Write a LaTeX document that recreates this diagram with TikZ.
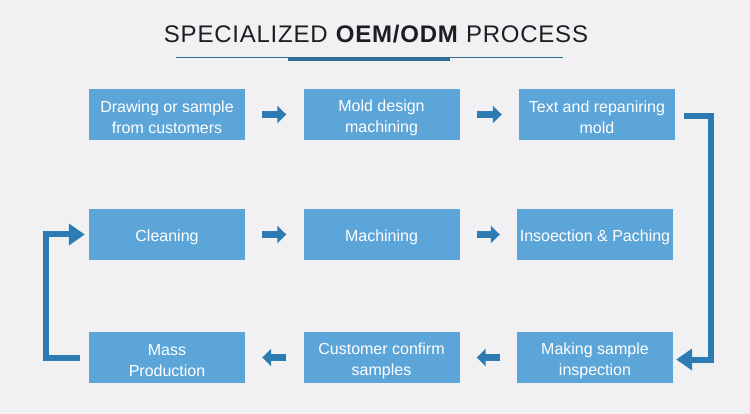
\documentclass[tikz,border=0pt]{standalone}
\usepackage{fontspec}
\setmainfont{Liberation Sans}
\newfontfamily\titlefont[LetterSpace=3.2]{Liberation Sans}
\usetikzlibrary{arrows.meta}
\definecolor{bg}{HTML}{F1F0F3}
\definecolor{boxblue}{HTML}{5CA5D8}
\definecolor{arrblue}{HTML}{2C7BB2}
\definecolor{lineblue}{HTML}{2E6F96}
\definecolor{titlegray}{HTML}{1E1E22}
\newcommand\mytopstrut{\rule{0pt}{18pt}}
\tikzset{
  stepbox/.style={fill=boxblue, minimum width=156pt, minimum height=51pt, inner sep=0pt,
    text=white, align=center, font=\fontsize{16}{21}\selectfont},
  smallarrow/.style={draw=arrblue, line width=7.5pt, shorten <=17pt, shorten >=17pt,
    -{Triangle[length=9pt,width=17pt]}},
  conn/.style={draw=arrblue, line width=6pt,
    -{Triangle[length=16pt,width=21pt]}},
}
\begin{document}
\begin{tikzpicture}[x=1pt,y=-1pt]
\fill[bg] (0,0) rectangle (750,414);
\useasboundingbox (0,0) rectangle (750,414);
% title
\node[anchor=base, inner sep=0pt, text=titlegray, font=\titlefont\fontsize{24}{28}\selectfont] (title) at (376,43)
  {SPECIALIZED \textbf{OEM/ODM} PROCESS};
\draw[lineblue, line width=1pt] (176,57.5) -- (563,57.5);
\draw[lineblue, line width=4pt] (288,59) -- (450,59);
% boxes
\node[stepbox] (a1) at (167,114.5) {\mytopstrut Drawing or sample\\from customers};
\node[stepbox] (a2) at (381.5,114.5) {\mytopstrut Mold design\\machining};
\node[stepbox] (a3) at (597,114.5) {\mytopstrut Text and repaniring\\mold};
\node[stepbox] (b1) at (167,234.5) {\mytopstrut Cleaning};
\node[stepbox] (b2) at (381.5,234.5) {\mytopstrut Machining};
\node[stepbox] (b3) at (595,234.5) {\mytopstrut Insoection \& Paching};
\node[stepbox] (c1) at (167,357.5) {\mytopstrut Mass\\Production};
\node[stepbox] (c2) at (381.5,357.5) {\mytopstrut Customer confirm\\samples};
\node[stepbox] (c3) at (595,357.5) {\mytopstrut Making sample\\inspection};
% small arrows
\draw[smallarrow] (a1) -- (a2);
\draw[smallarrow] (a2) -- (a3);
\draw[smallarrow] (b1) -- (b2);
\draw[smallarrow] (b2) -- (b3);
\draw[smallarrow] (c3) -- (c2);
\draw[smallarrow] (c2) -- (c1);
% loop connectors
\draw[conn, shorten >=3pt] ([xshift=9pt,yshift=-2pt]a3.east) -- ++(27,0) |- ([yshift=-2pt]c3.east);
\draw[conn, shorten >=4pt] ([xshift=-9pt]c1.west) -- ++(-34,0) |- (b1.west);
\end{tikzpicture}
\end{document}
